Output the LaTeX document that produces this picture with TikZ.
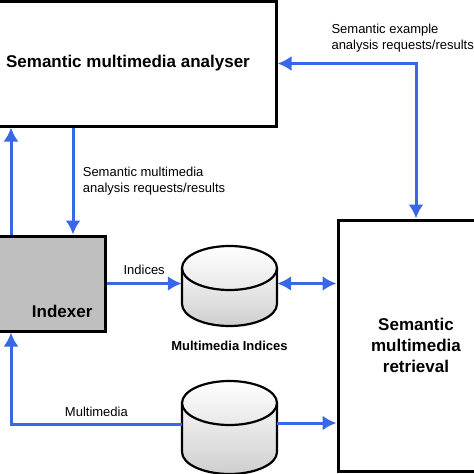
\documentclass[tikz,border=0pt]{standalone}
\usepackage{fontspec}
\setmainfont{Liberation Sans}
\usetikzlibrary{arrows.meta}

\definecolor{flowblue}{RGB}{56,104,232}

% database drum, drawn round a named node
\newcommand{\dbdraw}[2]{%
  \begin{scope}[shift={(#1.center)}]
    \path[top color=gray!8, bottom color=gray!38]
      (-47.5,-#2) -- (-47.5,#2) arc[start angle=180, end angle=0, x radius=47.5, y radius=22] -- (47.5,-#2) -- cycle;
    \draw[line width=2.2pt]
      (-47.5,-#2) -- (-47.5,#2) arc[start angle=180, end angle=0, x radius=47.5, y radius=22] -- (47.5,-#2);
    \draw[line width=2.2pt, top color=white, bottom color=gray!18]
      (0,-#2) ellipse[x radius=47.5, y radius=22];
  \end{scope}}

\begin{document}
\begin{tikzpicture}[x=1pt, y=-1pt,
    >={Latex[length=14pt,width=15pt]},
    box/.style={draw, line width=3pt, inner sep=0pt},
    boxtext/.style={font=\fontsize{17}{21}\selectfont\bfseries},
    lbl/.style={font=\fontsize{13}{16}\selectfont, align=left},
    flow/.style={draw=flowblue, line width=3pt, ->},
    dbnode/.style={minimum width=95pt, inner sep=0pt}]
      \clip (0,0) rectangle (474,474);

      \node[box, boxtext, minimum width=296pt, minimum height=125pt] (ana) at (128,63.5) {Semantic multimedia analyser};
      \node[box, fill=gray!50, minimum width=125pt, minimum height=95pt] (idx) at (42.5,283.5) {};
      \node[boxtext, anchor=base east] (idxtxt) at (96,317) {Indexer};
      \node[box, boxtext, align=center, minimum width=156pt, minimum height=251pt] (ret) at (416,345.5) {Semantic\\multimedia\\retrieval};

      \node[dbnode, minimum height=80pt] (mmidx) at (229.5,286) {};
      \dbdraw{mmidx}{18}
      \node[font=\fontsize{13}{16}\selectfont\bfseries] (mmidxtxt) at (229.5,346) {Multimedia Indices};
      \node[dbnode, minimum height=93pt] (mmdb) at (229.5,427.5) {};
      \dbdraw{mmdb}{24.5}

      \node[lbl, anchor=west] (extxt) at (328,38.5) {Semantic example\\analysis requests/results};

      \draw[flow, <->] (ret.north) |- (ana.east);
      \draw[flow] (idx.north -| 11,0) -- (ana.south -| 11,0);
      \draw[flow] (ana.south -| 73,0) -- (idx.north -| 73,0) node [lbl, midway, right=5pt] (anatxt) {Semantic multimedia\\analysis requests/results};
      \draw[flow] (idx.east) -- (idx.east -| mmidx.west) node [lbl, midway, above=4pt] (idxlbl) {Indices};
      \draw[flow, <->] (idx.east -| mmidx.east) -- (idx.east -| ret.west);
      \draw[flow] (mmdb.west |- 0,424) -| (idx.south -| 11,0) node [lbl, pos=0.25, above=3pt] (mmlbl) {Multimedia};
      \draw[flow] (mmdb.east |- 0,423) -- (ret.west |- 0,423);
\end{tikzpicture}
\end{document}
